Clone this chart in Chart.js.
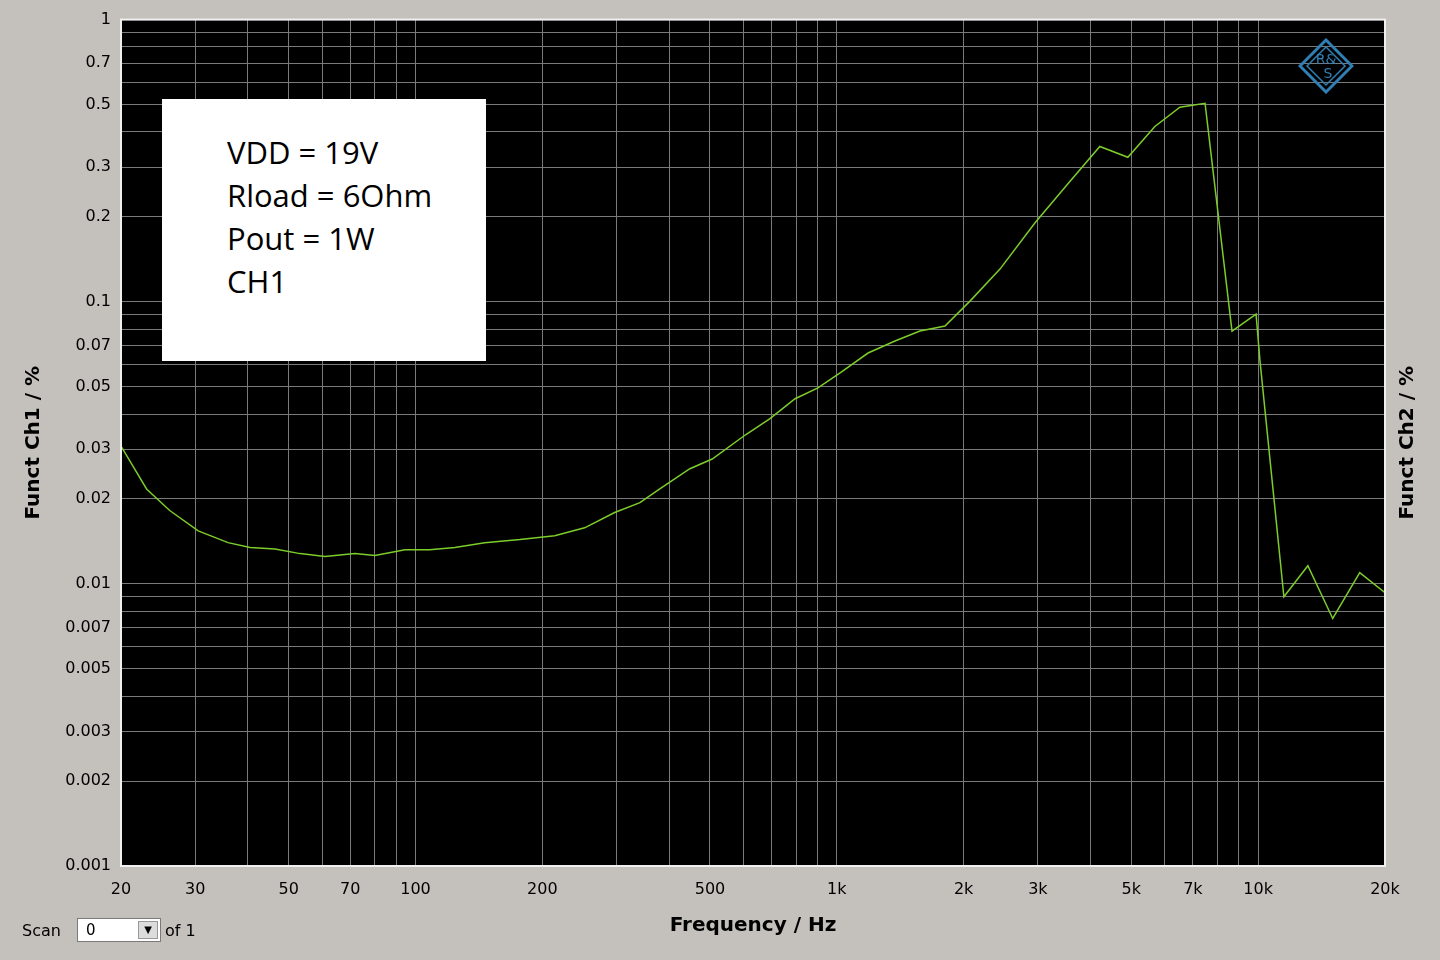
<!DOCTYPE html>
<html><head><meta charset="utf-8">
<script src="https://cdn.jsdelivr.net/npm/chart.js@4/dist/chart.umd.min.js"></script>
<style>
body{margin:0;background:#c4c0bc;width:1440px;height:960px;overflow:hidden;position:relative;font-family:"DejaVu Sans",sans-serif}
#c{position:absolute;left:0;top:0}
#box{position:absolute;left:162px;top:99px;width:324px;height:262px;background:#fff;font-family:"Open Sans",sans-serif;font-size:31px;line-height:43px;color:#000;padding:32px 0 0 65px;box-sizing:border-box}
#logo{position:absolute;left:1298px;top:38px;width:56px;height:56px}
#scan{position:absolute;left:22px;top:921px;font-size:16px;color:#000}
#sel{position:absolute;left:77px;top:918px;width:84px;height:24px;background:#fff;border:1px solid #7a7a7a;box-sizing:border-box;font-size:15px;padding-left:8px;line-height:22px}
#arr{position:absolute;right:2px;top:2px;width:20px;height:18px;background:#dcdcdc;border:1px solid #999;box-sizing:border-box;font-size:10px;text-align:center;line-height:16px}
#of{position:absolute;left:165px;top:921px;font-size:16px}
</style></head><body>
<canvas id="c" width="1440" height="960"></canvas>
<div id="box">VDD = 19V<br>Rload = 6Ohm<br>Pout = 1W<br>CH1</div>
<svg id="logo" viewBox="0 0 56 56"><polygon points="28,2 54,28 28,54 2,28" fill="none" stroke="#2f7fb5" stroke-width="3"/><polygon points="28,9 47,28 28,47 9,28" fill="none" stroke="#2f7fb5" stroke-width="1.5"/><text x="28" y="26" font-size="14" text-anchor="middle" fill="#2f7fb5" font-family="DejaVu Sans">R&amp;</text><text x="30" y="40" font-size="14" text-anchor="middle" fill="#2f7fb5" font-family="DejaVu Sans">S</text></svg>
<div id="scan">Scan</div><div id="sel">0<div id="arr">&#9660;</div></div><div id="of">of 1</div>
<script>
const freqs=[20,23,26.1,30.5,35.9,40.5,46.4,53.2,61,71.8,80.1,94.4,108,124,146,177,214,252,297,341,380,448,506,606,694,796,902,1018,1186,1374,1575,1806,2070,2439,2951,3573,4209,4906,5686,6520,7481,8668,9886,10100,11510,13120,15030,17420,20000];
const thdCh1=[0.0308,0.0217,0.0182,0.0154,0.0140,0.01345,0.0133,0.0128,0.0125,0.0128,0.0126,0.0132,0.0132,0.01345,0.0140,0.01435,0.0148,0.0158,0.0179,0.0194,0.0217,0.0256,0.0277,0.0337,0.0385,0.0453,0.0495,0.056,0.0658,0.0726,0.0787,0.082,0.1005,0.1305,0.19,0.267,0.355,0.325,0.418,0.489,0.505,0.0787,0.0904,0.0617,0.0090,0.0116,0.00754,0.01096,0.0093];
const xLabels=[20,30,50,70,100,200,500,1000,2000,3000,5000,7000,10000,20000];
const yLabels=[1,0.7,0.5,0.3,0.2,0.1,0.07,0.05,0.03,0.02,0.01,0.007,0.005,0.003,0.002,0.001];
function grid(min,max){const t=[];for(let d=1e-4;d<=1e5;d*=10)for(let m=1;m<10;m++){const v=+(m*d).toPrecision(3);if(v>=min*0.999&&v<=max*1.001)t.push(v);}return t;}
const near=(a,b)=>Math.abs(a/b-1)<1e-6;
const fmtX=v=>v>=1000?(v/1000)+'k':String(v);
const bg={id:'bg',beforeDraw(c){const a=c.chartArea,x=c.ctx;x.save();x.fillStyle='#000';x.fillRect(a.left,a.top,a.right-a.left,a.bottom-a.top);x.restore();},
afterDraw(c){const a=c.chartArea,x=c.ctx;x.save();x.strokeStyle='#f0f0f0';x.lineWidth=2;x.strokeRect(a.left,a.top,a.right-a.left,a.bottom-a.top);
 x.translate(1408,(a.top+a.bottom)/2);x.rotate(-Math.PI/2);x.fillStyle='#000';x.font='bold 20px "DejaVu Sans"';x.textAlign='center';x.textBaseline='middle';x.fillText('Funct Ch2 / %',0,0);x.restore();}};
new Chart(document.getElementById('c'),{type:'line',
data:{datasets:[{data:freqs.map((f,i)=>({x:f,y:thdCh1[i]})),borderColor:'#7ccc2a',borderWidth:1.5,pointRadius:0,tension:0}]},
options:{responsive:false,animation:false,layout:{padding:{top:18,left:0,right:55,bottom:0}},
plugins:{legend:{display:false},tooltip:{enabled:false}},
scales:{
x:{type:'logarithmic',min:20,max:20000,afterBuildTicks:s=>{s.ticks=grid(20,20000).map(v=>({value:v}));},afterFit:s=>{s.height=94;},
 ticks:{autoSkip:false,maxRotation:0,color:'#000',font:{family:'DejaVu Sans',size:16},padding:14,callback:v=>xLabels.some(l=>near(l,v))?fmtX(v):''},
 grid:{color:'#7a7a7a',lineWidth:1,drawTicks:false},border:{display:false},
 title:{display:true,text:'Frequency / Hz',color:'#000',font:{family:'DejaVu Sans',size:20,weight:'bold'},padding:{top:0,bottom:22}}},
y:{type:'logarithmic',min:0.001,max:1,afterBuildTicks:s=>{s.ticks=grid(0.001,1).map(v=>({value:v}));},afterFit:s=>{s.width=121;},
 ticks:{autoSkip:false,color:'#000',font:{family:'DejaVu Sans',size:16},padding:10,callback:v=>yLabels.some(l=>near(l,v))?String(v):''},
 grid:{color:'#7a7a7a',lineWidth:1,drawTicks:false},border:{display:false},
 title:{display:true,text:'Funct Ch1 / %',color:'#000',font:{family:'DejaVu Sans',size:20,weight:'bold'},padding:{top:22,bottom:0}}}
}},plugins:[bg]});
</script></body></html>
